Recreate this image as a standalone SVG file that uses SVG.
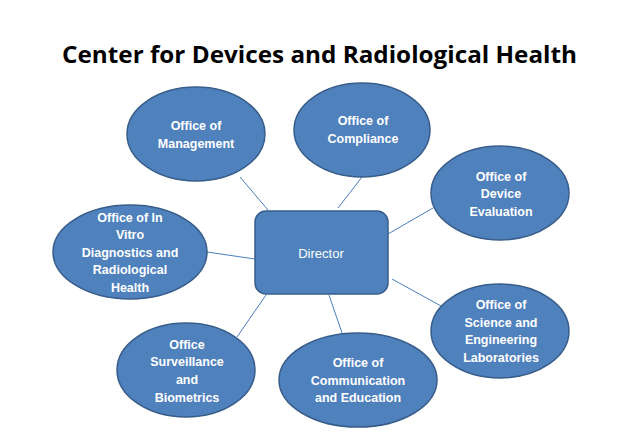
<svg xmlns="http://www.w3.org/2000/svg" width="638" height="442" viewBox="0 0 638 442">
<style>
.bg{fill:#ffffff}
.title{font-family:"Open Sans","Liberation Sans",Arial,sans-serif;font-weight:bold;font-size:23px;fill:#000000}
.node{fill:#4F81BD;stroke:#385D8A;stroke-width:1.5}
.lbl{font-family:"Liberation Sans",Arial,sans-serif;font-weight:bold;font-size:12.5px;fill:#ffffff;text-anchor:middle}
.dir{font-family:"Liberation Sans",Arial,sans-serif;font-size:13px;fill:#ffffff;text-anchor:middle}
.conn line{stroke:#4A7EBB;stroke-width:1}
</style>
<rect class="bg" x="0" y="0" width="638" height="442"/>
<text class="title" x="62" y="63" textLength="515" lengthAdjust="spacingAndGlyphs">Center for Devices and Radiological Health</text>
<g id="connectors" class="conn">
<line x1="240" y1="177" x2="268" y2="210"/>
<line x1="362" y1="177" x2="338" y2="208"/>
<line x1="433" y1="208" x2="388" y2="234"/>
<line x1="392" y1="279" x2="441" y2="306"/>
<line x1="207" y1="252" x2="255" y2="259"/>
<line x1="237" y1="337" x2="266" y2="295"/>
<line x1="329" y1="295" x2="342" y2="333"/>
</g>
<g id="director">
<rect class="node" x="255" y="211" width="133" height="83" rx="11" ry="11"/>
<text class="dir" x="321" y="258">Director</text>
</g>
<g id="management">
<ellipse class="node" cx="196" cy="134" rx="69" ry="47"/>
<text class="lbl" x="196" y="130">Office of</text>
<text class="lbl" x="196" y="148">Management</text>
</g>
<g id="compliance">
<ellipse class="node" cx="362" cy="130" rx="68" ry="47"/>
<text class="lbl" x="363" y="125">Office of</text>
<text class="lbl" x="363" y="143">Compliance</text>
</g>
<g id="device-evaluation">
<ellipse class="node" cx="500" cy="193" rx="69" ry="47"/>
<text class="lbl" x="501" y="181">Office of</text>
<text class="lbl" x="501" y="198">Device</text>
<text class="lbl" x="501" y="216">Evaluation</text>
</g>
<g id="science">
<ellipse class="node" cx="500" cy="331" rx="69" ry="47"/>
<text class="lbl" x="501" y="309">Office of</text>
<text class="lbl" x="501" y="327">Science and</text>
<text class="lbl" x="501" y="344">Engineering</text>
<text class="lbl" x="501" y="362">Laboratories</text>
</g>
<g id="in-vitro">
<ellipse class="node" cx="130" cy="252" rx="77" ry="47"/>
<text class="lbl" x="130" y="222">Office of In</text>
<text class="lbl" x="130" y="239">Vitro</text>
<text class="lbl" x="130" y="257">Diagnostics and</text>
<text class="lbl" x="130" y="274">Radiological</text>
<text class="lbl" x="130" y="292">Health</text>
</g>
<g id="surveillance">
<ellipse class="node" cx="186" cy="370" rx="69" ry="47"/>
<text class="lbl" x="187" y="349">Office</text>
<text class="lbl" x="187" y="366">Surveillance</text>
<text class="lbl" x="187" y="384">and</text>
<text class="lbl" x="187" y="402">Biometrics</text>
</g>
<g id="communication">
<ellipse class="node" cx="358" cy="380" rx="79" ry="47"/>
<text class="lbl" x="358" y="367">Office of</text>
<text class="lbl" x="358" y="385">Communication</text>
<text class="lbl" x="358" y="402">and Education</text>
</g>
</svg>
